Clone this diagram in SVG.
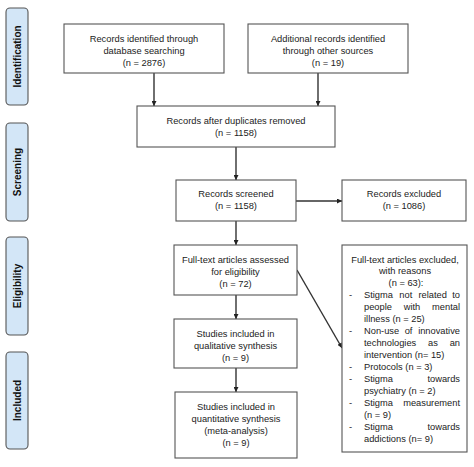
<svg xmlns="http://www.w3.org/2000/svg" width="474" height="467" viewBox="0 0 474 467">
<style>
.bx{fill:#fff;stroke:#555;stroke-width:1.1}
.lb{fill:#d3e6f7;stroke:#555;stroke-width:1.1}
.t{font-family:"Liberation Sans",Arial,sans-serif;font-size:9.3px;fill:#222;text-anchor:middle}
.l{font-family:"Liberation Sans",Arial,sans-serif;font-size:9.3px;fill:#222}
.e{font-family:"Liberation Sans",Arial,sans-serif;font-size:9.3px;fill:#222;text-anchor:end}
.v{font-family:"Liberation Sans",Arial,sans-serif;font-size:10px;font-weight:bold;fill:#111;text-anchor:middle}
.c{stroke:#333;stroke-width:1.4;fill:none}
</style>
<defs>
<marker id="ah" viewBox="0 0 10 10" refX="10" refY="5" markerWidth="5" markerHeight="5" orient="auto" markerUnits="userSpaceOnUse">
<path d="M0,0 L10,5 L0,10 z" fill="#222"/>
</marker>
</defs>
<rect width="474" height="467" fill="#fff"/>

<g id="phase-identification"><rect class="lb" x="6" y="8" width="22" height="97" rx="4"/><text class="v" transform="translate(20.5,56.5) rotate(-90)">Identification</text></g>
<g id="phase-screening"><rect class="lb" x="6" y="123" width="22" height="98" rx="4"/><text class="v" transform="translate(20.5,172) rotate(-90)">Screening</text></g>
<g id="phase-eligibility"><rect class="lb" x="6" y="237" width="22" height="98" rx="4"/><text class="v" transform="translate(20.5,286) rotate(-90)">Eligibility</text></g>
<g id="phase-included"><rect class="lb" x="6" y="352" width="22" height="97" rx="4"/><text class="v" transform="translate(20.5,400.5) rotate(-90)">Included</text></g>

<g id="connectors">
<line class="c" x1="154" y1="73" x2="154" y2="106" marker-end="url(#ah)"/>
<line class="c" x1="318" y1="73" x2="318" y2="106" marker-end="url(#ah)"/>
<line class="c" x1="236" y1="147" x2="236" y2="180" marker-end="url(#ah)"/>
<line class="c" x1="296" y1="201" x2="342" y2="201" marker-end="url(#ah)"/>
<line class="c" x1="236" y1="221" x2="236" y2="245" marker-end="url(#ah)"/>
<line class="c" x1="297" y1="270" x2="342" y2="348" marker-end="url(#ah)"/>
<line class="c" x1="236" y1="295" x2="236" y2="319" marker-end="url(#ah)"/>
<line class="c" x1="236" y1="368" x2="236" y2="392" marker-end="url(#ah)"/>
</g>

<g id="n-database"><rect class="bx" x="64" y="24" width="160" height="49"/>
<text class="t" x="144" y="41.5">Records identified through</text>
<text class="t" x="144" y="53.5">database searching</text>
<text class="t" x="144" y="65.5">(n = 2876)</text></g>

<g id="n-other"><rect class="bx" x="248" y="24" width="160" height="49"/>
<text class="t" x="328" y="41.5">Additional records identified</text>
<text class="t" x="328" y="53.5">through other sources</text>
<text class="t" x="328" y="65.5">(n = 19)</text></g>

<g id="n-duplicates"><rect class="bx" x="137" y="106" width="198" height="41"/>
<text class="t" x="236" y="123.5">Records after duplicates removed</text>
<text class="t" x="236" y="135.5">(n = 1158)</text></g>

<g id="n-screened"><rect class="bx" x="176" y="180" width="120" height="41"/>
<text class="t" x="236" y="197">Records screened</text>
<text class="t" x="236" y="209">(n = 1158)</text></g>

<g id="n-excluded"><rect class="bx" x="342" y="180" width="124" height="41"/>
<text class="t" x="404" y="197">Records excluded</text>
<text class="t" x="404" y="209">(n = 1086)</text></g>

<g id="n-fulltext"><rect class="bx" x="174" y="245" width="123" height="50"/>
<text class="t" x="235.5" y="262.5">Full-text articles assessed</text>
<text class="t" x="235.5" y="274.5">for eligibility</text>
<text class="t" x="235.5" y="286.5">(n = 72)</text></g>

<g id="n-ft-excluded"><rect class="bx" x="342" y="245" width="125" height="207"/>
<text class="t" x="405" y="262.5">Full-text articles excluded,</text>
<text class="t" x="405" y="274.4">with reasons</text>
<text class="t" x="406" y="286.4">(n = 63):</text>
<text class="l" x="349" y="298.3">-</text>
<text class="l" x="364" y="298.3">Stigma</text><text class="l" x="399.3" y="298.3">not</text><text class="l" x="418.5" y="298.3">related</text><text class="e" x="460" y="298.3">to</text>
<text class="l" x="364" y="310.3">people</text><text class="l" x="403.7" y="310.3">with</text><text class="e" x="460" y="310.3">mental</text>
<text class="l" x="364" y="322.2">illness (n = 25)</text>
<text class="l" x="349" y="334.2">-</text>
<text class="l" x="364" y="334.2">Non-use</text><text class="l" x="404.7" y="334.2">of</text><text class="e" x="460" y="334.2">innovative</text>
<text class="l" x="364" y="346.1">technologies</text><text class="l" x="428" y="346.1">as</text><text class="e" x="460" y="346.1">an</text>
<text class="l" x="364" y="358.1">intervention (n= 15)</text>
<text class="l" x="349" y="370">-</text>
<text class="l" x="364" y="370">Protocols (n = 3)</text>
<text class="l" x="349" y="382">-</text>
<text class="l" x="364" y="382">Stigma</text><text class="e" x="460" y="382">towards</text>
<text class="l" x="364" y="393.9">psychiatry (n = 2)</text>
<text class="l" x="349" y="405.9">-</text>
<text class="l" x="364" y="405.9">Stigma</text><text class="e" x="460" y="405.9">measurement</text>
<text class="l" x="364" y="417.8">(n = 9)</text>
<text class="l" x="349" y="429.8">-</text>
<text class="l" x="364" y="429.8">Stigma</text><text class="e" x="460" y="429.8">towards</text>
<text class="l" x="364" y="441.7">addictions (n= 9)</text></g>

<g id="n-qualitative"><rect class="bx" x="174" y="319" width="123" height="49"/>
<text class="t" x="235.5" y="337">Studies included in</text>
<text class="t" x="235.5" y="349">qualitative synthesis</text>
<text class="t" x="235.5" y="361">(n = 9)</text></g>

<g id="n-quantitative"><rect class="bx" x="175" y="392" width="122" height="66"/>
<text class="t" x="236" y="410">Studies included in</text>
<text class="t" x="236" y="422">quantitative synthesis</text>
<text class="t" x="236" y="434">(meta-analysis)</text>
<text class="t" x="236" y="446">(n = 9)</text></g>
</svg>
